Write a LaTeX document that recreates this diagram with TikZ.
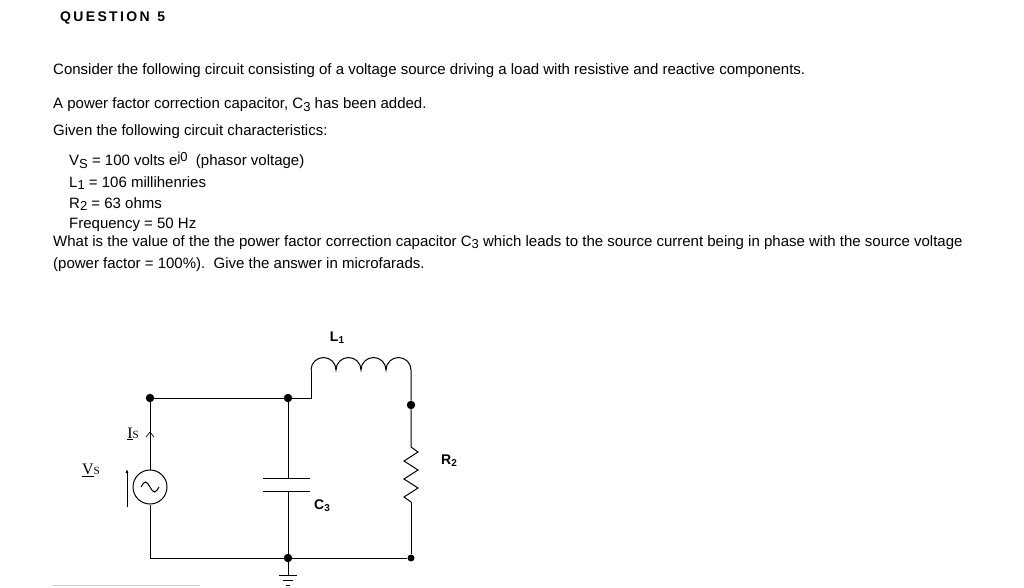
\documentclass[tikz,border=0pt]{standalone}
\usepackage{fontspec}
\setmainfont{Liberation Sans}
\newfontfamily\serifft{Liberation Serif}
\usetikzlibrary{arrows.meta}
\newcommand{\mysub}[1]{\raisebox{-0.3ex}{\fontsize{13}{15}\selectfont #1}}
\newcommand{\mysup}[1]{\raisebox{0.55ex}{\fontsize{13}{15}\selectfont #1}}
\begin{document}
\begin{tikzpicture}[x=1pt,y=-1pt,
  txt/.style={anchor=base west,inner sep=0pt,font=\fontsize{15}{17}\selectfont},
  wire/.style={line width=1pt},
  lbl/.style={font=\bfseries\fontsize{14}{16}\selectfont},
  dot/.style={circle,fill=black,inner sep=0pt,minimum size=8.5pt}]
\useasboundingbox (0,0) rectangle (1024,588);
\node[txt,font=\bfseries\fontsize{14}{16}\selectfont] (t) at (60,22) {Q\,U\,E\,S\,T\,I\,O\,N\ \ 5};
\node[txt] (l1) at (53,75) {Consider the following circuit consisting of a voltage source driving a load with resistive and reactive components.};
\node[txt] (l2) at (53,109) {A power factor correction capacitor, C\mysub{3} has been added.};
\node[txt] (l3) at (53,136) {Given the following circuit characteristics:};
\node[txt] (l4) at (69,166) {V\mysub{S} = 100 volts e\mysup{j0}\ \ (phasor voltage)};
\node[txt] (l5) at (69,187) {L\mysub{1} = 106 millihenries};
\node[txt] (l6) at (69,208) {R\mysub{2} = 63 ohms};
\node[txt] (l7) at (69,228) {Frequency = 50 Hz};
\node[txt] (l8) at (53,246) {What is the value of the the power factor correction capacitor C\mysub{3} which leads to the source current being in phase with the source voltage};
\node[txt] (l9) at (53,268) {(power factor = 100\%).\ \ Give the answer in microfarads.};
% circuit
\node[dot] (a) at (150,398) {};
\node[dot] (b) at (288,398) {};
\node[dot] (c) at (411,405) {};
\node[dot] (d) at (288,558) {};
\node[dot,minimum size=7pt] (e) at (411,558) {};
\node[circle,draw,line width=1pt,minimum size=34pt,inner sep=0pt] (src) at (150,487) {};
\draw[line width=1pt] (141,487) sin (145.5,482) cos (150,487) sin (154.5,492) cos (159,487);
\draw[wire] (a) -- (src) (src) -- (150,558) -- (d) -- (e) -- (411,502);
\draw[wire] (a) -- (b) -- (311,398) -- (311,370);
\draw[wire] (311,370) arc (180:360:12.5) arc (180:360:12.5) arc (180:360:12.5) arc (180:360:12.5) -- (c);
\draw[wire] (c) -- (411,447) -- (418,452) -- (404,461) -- (418,470) -- (404,479) -- (418,488) -- (404,497) -- (411,502);
\draw[wire] (b) -- (288,478) (263,478) -- (310,478) (263,491) -- (310,491) (288,491) -- (d);
\draw[wire] (d) -- (288,575) (279,575) -- (297,575) (283,580) -- (293,580) (286,585) -- (290,585);
\draw[line width=0.7pt] (150,432) -- (146,437) (150,432) -- (154,437);
\draw[line width=1pt,-{Latex[length=4pt,width=3pt]}] (127,507) -- (127,469);
\node[font=\serifft\fontsize{16}{18}\selectfont] (is) at (133,434) {\underline{I}{\fontsize{11}{12}\selectfont S}};
\node[font=\serifft\fontsize{16}{18}\selectfont] (vs) at (91,470) {\underline{V}{\fontsize{11}{12}\selectfont S}};
\node[lbl] (L1) at (337,338) {L\raisebox{-0.3ex}{\fontsize{10}{11}\selectfont 1}};
\node[lbl] (R2) at (449,461) {R\raisebox{-0.3ex}{\fontsize{10}{11}\selectfont 2}};
\node[lbl] (C3) at (322,506) {C\raisebox{-0.3ex}{\fontsize{10}{11}\selectfont 3}};
\draw[gray!40] (52,585) -- (200,585);
\end{tikzpicture}
\end{document}
